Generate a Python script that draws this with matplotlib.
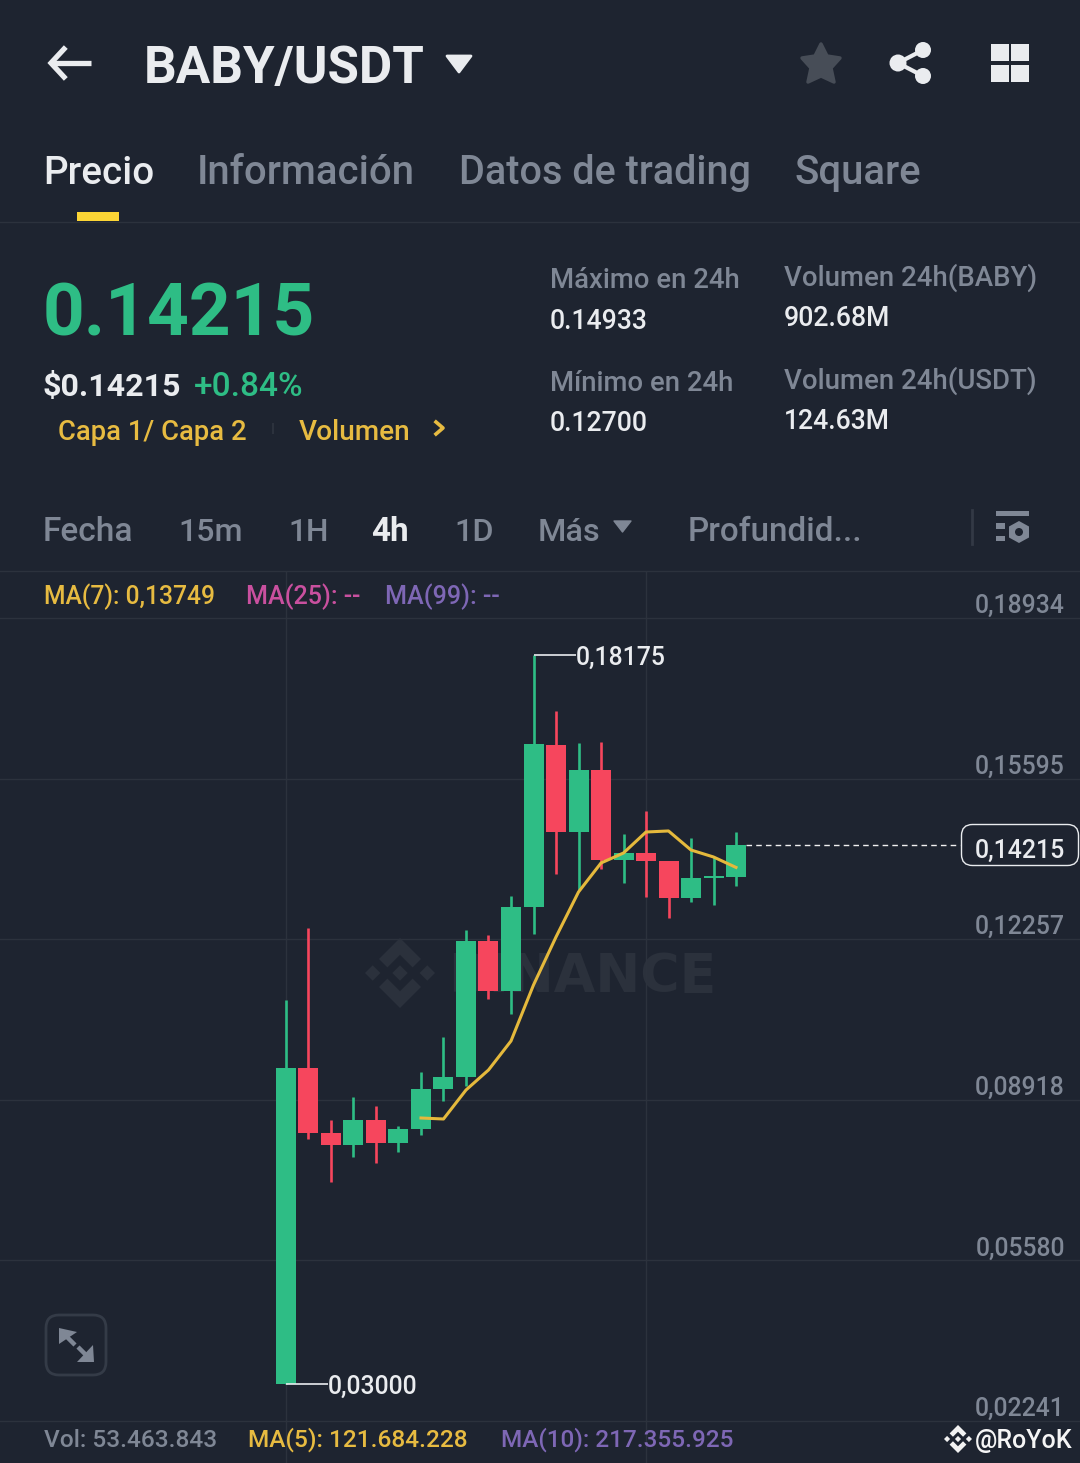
import matplotlib
matplotlib.use("Agg")
import matplotlib.pyplot as plt
from matplotlib.patches import Polygon, Circle, Rectangle, FancyBboxPatch

# ---------- data ----------
opens  = [0.03000, 0.09579, 0.08228, 0.07979, 0.08498, 0.08020, 0.08311, 0.09143, 0.09392, 0.12219, 0.11180,
          0.12926, 0.16294, 0.14485, 0.15774, 0.13903, 0.14049, 0.13883, 0.13113, 0.13529, 0.13550]
highs  = [0.10993, 0.12490, 0.08498, 0.08977, 0.08789, 0.08374, 0.09496, 0.10224, 0.12448, 0.12344, 0.13155,
          0.18175, 0.17001, 0.16335, 0.16356, 0.14444, 0.14922, 0.13883, 0.14361, 0.13966, 0.14485]
lows   = [0.03000, 0.08103, 0.07210, 0.07729, 0.07605, 0.07833, 0.08187, 0.08893, 0.09205, 0.11014, 0.10702,
          0.12365, 0.13612, 0.13280, 0.13716, 0.13425, 0.13134, 0.12698, 0.13030, 0.12968, 0.13363]
closes = [0.09579, 0.08228, 0.07979, 0.08498, 0.08020, 0.08311, 0.09143, 0.09392, 0.12219, 0.11180, 0.12926,
          0.16315, 0.14485, 0.15774, 0.13903, 0.14049, 0.13883, 0.13113, 0.13529, 0.13571, 0.14215]
ma7_idx = [6, 7, 8, 9, 10, 11, 12, 13, 14, 15, 16, 17, 18, 19, 20]
ma7     = [0.08540, 0.08519, 0.09122, 0.09538, 0.10141, 0.11305, 0.12303, 0.13238, 0.13841, 0.14049,
           0.14485, 0.14507, 0.14111, 0.13966, 0.13749]
price_ticks = [0.18934, 0.15595, 0.12257, 0.08918, 0.05580, 0.02241]
price_labels = ["0,18934", "0,15595", "0,12257", "0,08918", "0,05580", "0,02241"]
period_tabs = ["Fecha", "15m", "1H", "4h", "1D", "Más", "Profundid..."]
main_tabs = ["Precio", "Información", "Datos de trading", "Square"]

# ---------- style ----------
W, H = 1080, 1463
BG = "#1e2430"; GRID = "#2c323d"; GREEN = "#2EBD85"; RED = "#F6465D"
GREY = "#7f8795"; WHITE = "#eaecef"; GOLD = "#e7bb41"; PINK = "#c9509f"; PURPLE = "#7e67b5"
plt.rcParams["font.family"] = ["Roboto", "DejaVu Sans"]

fig = plt.figure(figsize=(W / 100, H / 100), dpi=100, facecolor=BG)

def pixel_axes(z):
    a = fig.add_axes([0, 0, 1, 1], zorder=z)
    a.set_xlim(0, W); a.set_ylim(H, 0); a.axis("off")
    return a

under = pixel_axes(0)
top = pixel_axes(2)

# ---------- main chart: pixel layout 571..1463, tick 0.18934 at 618, 0.02241 at 1421 ----------
ax = fig.add_axes([0, 0, 1, (H - 571) / H], zorder=1)
ax.patch.set_alpha(0)
per_px = (price_ticks[0] - price_ticks[-1]) / (1421 - 618)
ax.set_ylim(price_ticks[-1] - (H - 1421) * per_px, price_ticks[0] + (618 - 571) * per_px)
step = 22.5
ax.set_xlim(-286 / step, (W - 286) / step)
for s in ax.spines.values():
    s.set_visible(False)
ax.set_yticks(price_ticks)
ax.set_yticklabels(price_labels)
ax.set_xticks([0, 16])
ax.set_xticklabels([])
ax.yaxis.tick_right()
ax.tick_params(axis="both", length=0)
ax.tick_params(axis="y", pad=-10.8, labelsize=17.8, labelcolor=GREY)
for lab in ax.get_yticklabels():
    lab.set_ha("right"); lab.set_va("bottom"); lab.set_fontweight("medium")
ax.grid(True, color=GRID, lw=1.0, zorder=0)
ax.set_axisbelow(True)

xs = list(range(len(opens)))
cols = [GREEN if c >= o else RED for o, c in zip(opens, closes)]
ax.vlines(xs, lows, highs, colors=cols, lw=1.9, zorder=2)
ax.bar(xs, [c - o for o, c in zip(opens, closes)], bottom=opens, width=20 / step, color=cols, zorder=3)
ax.plot(ma7_idx, ma7, color="#e5b93c", lw=2.2, zorder=4, solid_joinstyle="round")
ax.plot([20.45, (960 - 286) / step], [closes[-1]] * 2, color="#f0f0f0", lw=1.0, dashes=(4, 3), zorder=2)

def extreme(i, val, label, dy):
    ax.plot([i, i + 42 / step], [val, val], color=WHITE, lw=1.2, zorder=5, solid_capstyle="butt")
    ax.annotate(label, xy=(i, val), xytext=(42, dy), textcoords="offset pixels", color=WHITE,
                fontsize=17.8, va="center", ha="left", fontweight="medium")
extreme(11, highs[11], "0,18175", -3)
extreme(0, lows[0], "0,03000", -2)

# ---------- helpers ----------
rend = fig.canvas.get_renderer()
def T(x, base, s, width, color=WHITE, weight="medium", a=None, family=None):
    a = a or top
    t = a.text(x - 1, base, s, color=color, fontweight=weight, fontsize=20, va="baseline", ha="left")
    if family:
        t.set_family(family)
    w = t.get_window_extent(rend).width
    t.set_fontsize(20 * (width + 1.5) / w)
    return t

def logo(a, cx, cy, s, color, z=1):
    def add(pts):
        a.add_patch(Polygon([(cx + p * s, cy + q * s) for p, q in pts], closed=True, fc=color, ec="none", zorder=z))
    dia = lambda x0, y0, r: [(x0, y0 - r), (x0 + r, y0), (x0, y0 + r), (x0 - r, y0)]
    add(dia(0, 0, .22)); add(dia(-.78, 0, .22)); add(dia(.78, 0, .22))
    add([(0, -1), (.6, -.4), (.36, -.16), (0, -.52), (-.36, -.16), (-.6, -.4)])
    add([(0, 1), (.6, .4), (.36, .16), (0, .52), (-.36, .16), (-.6, .4)])

# ---------- watermark ----------
T(449, 992, "BINANCE", 266, color="#2b313c", weight="bold", a=under, family="DejaVu Sans")
logo(under, 400, 973, 35, "#2b313c")

# ---------- header ----------
top.plot([52, 91], [63, 63], color=WHITE, lw=3.8, solid_capstyle="butt")
top.plot([64, 51, 64], [49, 63, 77], color=WHITE, lw=3.8, solid_joinstyle="miter")
T(145, 83, "BABY/USDT", 279, weight="bold")
top.add_patch(Polygon([(447, 56), (471, 56), (459, 72)], closed=True, fc=WHITE, ec=WHITE, lw=2, joinstyle="round"))

top.add_patch(Polygon([(821, 44), (827, 56), (840, 58), (831, 68), (834, 82), (821, 76), (808, 82), (811, 68), (802, 58), (815, 56)],
                      closed=True, fc="#474D57", ec="#474D57", lw=2.5, joinstyle="round"))
top.plot([923, 898, 923], [50, 63, 76], color=WHITE, lw=3)
for cy, cx, r in [(50, 923, 8), (63, 898, 8.5), (76, 923, 8)]:
    top.add_patch(Circle((cx, cy), r, fc=WHITE, ec="none"))
for x0, y0 in [(991, 44), (1011, 44), (991, 65), (1011, 65)]:
    top.add_patch(Rectangle((x0, y0), 17.5, 17, fc=WHITE, ec="none"))

for (x, w), lab, c in zip([(44, 110), (198, 217), (460, 291), (795, 125)], main_tabs, [WHITE, GREY, GREY, GREY]):
    T(x, 184, lab, w, color=c)
top.add_patch(Rectangle((77, 212), 42, 9, fc="#FCD535", ec="none", zorder=3))
top.plot([0, W], [221.5, 221.5], color=GRID, lw=1)

# ---------- ticker block ----------
T(44, 335, "0.14215", 271, color=GREEN, weight="bold")
T(43, 396, "$0.14215", 137, weight="bold")
T(195, 396, "+0.84%", 108, color=GREEN)
T(59, 440, "Capa 1/ Capa 2", 187, color=GOLD)
top.plot([273, 273], [424, 433], color=GRID, lw=1.5)
T(300, 440, "Volumen", 110, color=GOLD)
top.plot([436, 443, 436], [422, 428, 434], color=GOLD, lw=2.6)
T(551, 288, "Máximo en 24h", 188, color=GREY)
T(551, 329, "0.14933", 97)
T(551, 391, "Mínimo en 24h", 182, color=GREY)
T(551, 431, "0.12700", 97)
T(785, 286, "Volumen 24h(BABY)", 252, color=GREY)
T(785, 326, "902.68M", 105)
T(785, 389, "Volumen 24h(USDT)", 251, color=GREY)
T(785, 429, "124.63M", 105)

# ---------- period tabs ----------
for (x, w), lab in zip([(44, 89), (179, 63), (289, 39), (372, 36), (455, 38), (539, 61), (689, 174)], period_tabs):
    if lab == "4h":
        T(x, 541, lab, w, weight="bold")
    else:
        T(x, 541, lab, w, color=GREY)
top.add_patch(Polygon([(614, 521), (631, 521), (622.5, 532)], closed=True, fc=GREY, ec=GREY, lw=1, joinstyle="round"))
top.plot([972, 972], [510, 544], color="#333945", lw=2)
top.add_patch(Rectangle((996, 511), 33, 5, fc=GREY, ec="none"))
top.add_patch(Rectangle((996, 523), 9, 6, fc=GREY, ec="none"))
top.add_patch(Rectangle((996, 536), 9, 5, fc=GREY, ec="none"))
top.add_patch(Polygon([(1019, 521), (1029, 526.5), (1029, 537.5), (1019, 543), (1009, 537.5), (1009, 526.5)],
                      closed=True, fc=GREY, ec="none"))
top.add_patch(Circle((1019, 532), 4, fc=BG, ec="none"))
top.plot([0, W], [571, 571], color=GRID, lw=1)

# ---------- MA legend ----------
T(45, 604, "MA(7): 0,13749", 170, color=GOLD)
T(247, 604, "MA(25): --", 112, color=PINK)
T(386, 604, "MA(99): --", 113, color=PURPLE)

# ---------- last price tag ----------
top.add_patch(FancyBboxPatch((961.5, 824.5), 117, 41, boxstyle="round,pad=0,rounding_size=11", fc=BG, ec="#eaecef", lw=1.0))
T(976, 858, "0,14215", 89)

# ---------- expand button ----------
top.add_patch(FancyBboxPatch((46, 1315), 60, 60, boxstyle="round,pad=0,rounding_size=13", fc="none", ec="#343b47", lw=2))
top.add_patch(Polygon([(59, 1328), (77, 1332), (59, 1344)], closed=True, fc=GREY, ec="none"))
top.add_patch(Polygon([(94, 1362), (77, 1362), (93, 1345)], closed=True, fc=GREY, ec="none"))
top.plot([66, 75], [1336, 1345], color=GREY, lw=3.2, solid_capstyle="butt")
top.plot([78, 87], [1347, 1356], color=GREY, lw=3.2, solid_capstyle="butt")

# ---------- volume legend ----------
T(45, 1447, "Vol: 53.463.843", 172, color=GREY)
T(249, 1447, "MA(5): 121.684.228", 218, color=GOLD)
T(502, 1447, "MA(10): 217.355.925", 231, color=PURPLE)

# ---------- credit ----------
logo(top, 958, 1439, 14, "#f2f2f2", z=3)
T(976, 1448, "@RoYoK", 96, color="#f5f5f5")

fig.savefig("out.png", dpi=100, facecolor=BG)
